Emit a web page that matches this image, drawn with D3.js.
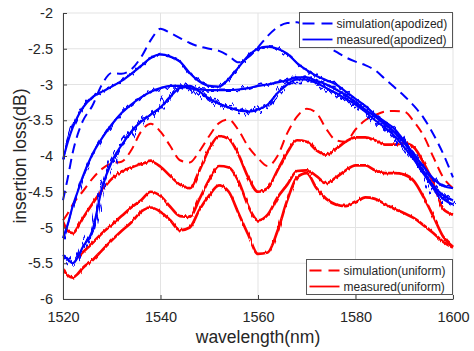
<!DOCTYPE html>
<html>
<head>
<meta charset="utf-8">
<script src="https://cdn.jsdelivr.net/npm/d3@7"></script>
<style>
  body { margin: 0; background: #fff; overflow: hidden; }
  text { font-family: "Liberation Sans", Arial, sans-serif; }
</style>
</head>
<body>
<div class="div-chart"></div>
<script>
// wavelength grid (nm)
const wavelength = [1520, 1521, 1522, 1523, 1524, 1526, 1528, 1530, 1532, 1534, 1536, 1538, 1540,
    1542, 1544, 1546, 1548, 1550, 1552, 1554, 1556, 1558, 1560, 1562, 1564, 1566, 1568, 1570,
    1572, 1574, 1576, 1578, 1580, 1582, 1584, 1586, 1588, 1590, 1592, 1594, 1596, 1598, 1600];

// simulation (apodized) - blue dashed
const simApodized = [-4.62, -4.3, -3.95, -3.7, -3.52, -3.3, -3.0, -2.84, -2.85, -2.79, -2.62, -2.38, -2.22,
    -2.28, -2.35, -2.42, -2.47, -2.5, -2.53, -2.6, -2.69, -2.62, -2.48, -2.32, -2.2, -2.14, -2.13, -2.22,
    -2.36, -2.46, -2.54, -2.62, -2.68, -2.73, -2.8, -2.92, -3.04, -3.16, -3.3, -3.47, -3.7, -3.97, -4.3];

// measured (apodized) - three blue traces
const measApodized1 = [-4.05, -3.8, -3.6, -3.45, -3.33, -3.18, -3.1, -3.03, -2.95, -2.85, -2.74, -2.63, -2.58,
    -2.61, -2.68, -2.84, -2.96, -3.02, -3.03, -2.92, -2.76, -2.6, -2.5, -2.47, -2.5, -2.57, -2.7, -2.8,
    -2.88, -2.94, -3.0, -3.1, -3.2, -3.3, -3.42, -3.52, -3.62, -3.8, -3.98, -4.15, -4.32, -4.42, -4.45];
const measApodized2 = [-5.15, -4.95, -4.7, -4.5, -4.3, -3.98, -3.75, -3.56, -3.4, -3.28, -3.18, -3.1, -3.05,
    -3.02, -3.02, -3.05, -3.07, -3.08, -3.08, -3.08, -3.07, -3.05, -3.02, -3.0, -2.97, -2.94, -2.9, -2.9,
    -2.95, -3.0, -3.07, -3.15, -3.25, -3.35, -3.45, -3.55, -3.67, -3.82, -4.02, -4.22, -4.42, -4.55, -4.62];
const measApodized3 = [-5.38, -5.45, -5.5, -5.42, -5.28, -5.05, -4.45, -4.08, -3.85, -3.66, -3.52, -3.42, -3.32,
    -3.17, -3.05, -3.02, -3.1, -3.2, -3.27, -3.32, -3.36, -3.38, -3.35, -3.28, -3.12, -3.0, -2.93, -2.93,
    -2.98, -3.05, -3.12, -3.2, -3.28, -3.38, -3.5, -3.6, -3.72, -3.88, -4.05, -4.25, -4.45, -4.6, -4.68];

// simulation (uniform) - red dashed
const simUniform = [-4.9, -4.8, -4.68, -4.58, -4.5, -4.32, -4.18, -4.1, -4.08, -3.92, -3.66, -3.55, -3.66,
    -3.86, -4.06, -4.09, -3.93, -3.72, -3.54, -3.49, -3.64, -3.87, -4.03, -4.14, -4.0, -3.68, -3.45, -3.34,
    -3.4, -3.62, -3.78, -3.8, -3.63, -3.5, -3.43, -3.38, -3.37, -3.38, -3.52, -3.72, -4.02, -4.3, -4.45];

// measured (uniform) - three red traces
const measUniform1 = [-4.92, -5.05, -5.08, -5.0, -4.88, -4.67, -4.48, -4.32, -4.22, -4.16, -4.11, -4.08, -4.15,
    -4.28, -4.4, -4.45, -4.2, -3.9, -3.72, -3.76, -3.98, -4.3, -4.5, -4.45, -4.2, -3.95, -3.78, -3.8,
    -3.92, -3.98, -3.9, -3.8, -3.74, -3.74, -3.78, -3.84, -3.84, -3.82, -3.88, -4.1, -4.38, -4.74, -4.82];
const measUniform2 = [null, null, null, -5.42, -5.35, -5.22, -5.08, -4.96, -4.84, -4.72, -4.62, -4.5, -4.56,
    -4.71, -4.84, -4.85, -4.6, -4.33, -4.14, -4.16, -4.35, -4.7, -4.9, -4.82, -4.58, -4.4, -4.21, -4.2,
    -4.28, -4.38, -4.3, -4.2, -4.13, -4.13, -4.2, -4.24, -4.24, -4.26, -4.35, -4.58, -4.85, -5.13, -5.27];
const measUniform3 = [-5.58, -5.67, -5.7, -5.65, -5.57, -5.46, -5.32, -5.18, -5.05, -4.93, -4.78, -4.72, -4.78,
    -4.9, -5.04, -5.0, -4.75, -4.55, -4.41, -4.5, -4.8, -5.1, -5.37, -5.35, -5.05, -4.62, -4.3, -4.24,
    -4.45, -4.6, -4.68, -4.7, -4.65, -4.58, -4.6, -4.67, -4.74, -4.8, -4.87, -4.97, -5.08, -5.2, -5.28];

const xTicks = [1520, 1540, 1560, 1580, 1600];
const yTicks = [-6, -5.5, -5, -4.5, -4, -3.5, -3, -2.5, -2];
const legendApodized = ['simulation(apodized)', 'measured(apodized)'];
const legendUniform = ['simulation(uniform)', 'measured(uniform)'];

const width = 474, height = 351;
const margin = {top: 13, right: 21, bottom: 52, left: 63};
const innerWidth = width - margin.left - margin.right;
const innerHeight = height - margin.top - margin.bottom;

const svg = d3.select('.div-chart')
    .append('svg')
    .attr('width', width)
    .attr('height', height)
    .style('display', 'block');

// jagged texture for the measured traces
const defs = svg.append('defs');
function addRipple(id, freq, scale, seed) {
    const f = defs.append('filter')
        .attr('id', id)
        .attr('filterUnits', 'userSpaceOnUse')
        .attr('x', 0).attr('y', 0).attr('width', width).attr('height', height);
    f.append('feTurbulence')
        .attr('type', 'fractalNoise')
        .attr('baseFrequency', freq)
        .attr('numOctaves', 1)
        .attr('seed', seed)
        .attr('result', 'noise');
    f.append('feDisplacementMap')
        .attr('in', 'SourceGraphic')
        .attr('in2', 'noise')
        .attr('scale', scale)
        .attr('xChannelSelector', 'R')
        .attr('yChannelSelector', 'G');
}
addRipple('rippleBig', '0.32 0.02', 20, 2);
addRipple('rippleBig2', '0.32 0.02', 18, 11);
addRipple('rippleMid', '0.32 0.02', 9, 5);
addRipple('rippleSmall', '0.5 0.05', 3, 8);

const g = svg.append('g')
    .attr('transform', `translate(${margin.left},${margin.top})`);

const xScale = d3.scaleLinear()
    .domain([1520, 1600])
    .range([0, innerWidth]);

const yScale = d3.scaleLinear()
    .domain([-6, -2])
    .range([innerHeight, 0]);

// grid
g.append('g')
    .selectAll('line')
    .data(xTicks)
    .enter().append('line')
    .attr('x1', d => xScale(d)).attr('x2', d => xScale(d))
    .attr('y1', 0).attr('y2', innerHeight)
    .attr('stroke', '#e3e3e3');
g.append('g')
    .selectAll('line')
    .data(yTicks)
    .enter().append('line')
    .attr('x1', 0).attr('x2', innerWidth)
    .attr('y1', d => yScale(d)).attr('y2', d => yScale(d))
    .attr('stroke', '#e3e3e3');

const line = data => d3.line()
    .defined(d => d[1] !== null)
    .x(d => xScale(d[0]))
    .y(d => yScale(d[1]))
    .curve(d3.curveMonotoneX)(wavelength.map((w, i) => [w, data[i]]));

// red traces
[measUniform1, measUniform2, measUniform3].forEach(s => {
    g.append('path')
        .attr('d', line(s))
        .attr('fill', 'none')
        .attr('stroke', '#ff0000')
        .attr('stroke-width', 2.7)
        .attr('filter', 'url(#rippleSmall)');
});
g.append('path')
    .attr('d', line(simUniform))
    .attr('fill', 'none')
    .attr('stroke', '#ff0000')
    .attr('stroke-width', 2)
    .attr('stroke-dasharray', '10,6');

// blue traces: a solid core plus jagged overlays
const blueTraces = [
    {data: measApodized1, core: 2.2, filters: ['rippleMid']},
    {data: measApodized2, core: 2.2, filters: ['rippleMid']},
    {data: measApodized3, core: 2.2, filters: ['rippleBig', 'rippleBig2']}
];
blueTraces.forEach(t => {
    g.append('path')
        .attr('d', line(t.data))
        .attr('fill', 'none')
        .attr('stroke', '#0000ff')
        .attr('stroke-width', t.core);
    t.filters.forEach(f => {
        g.append('path')
            .attr('d', line(t.data))
            .attr('fill', 'none')
            .attr('stroke', '#0000ff')
            .attr('stroke-width', 1.5)
            .attr('filter', `url(#${f})`);
    });
});
g.append('path')
    .attr('d', line(simApodized))
    .attr('fill', 'none')
    .attr('stroke', '#0000ff')
    .attr('stroke-width', 2)
    .attr('stroke-dasharray', '10,6');

// axes
const xAxis = g.append('g')
    .attr('transform', `translate(0,${innerHeight})`)
    .call(d3.axisBottom(xScale).tickValues(xTicks).tickFormat(d3.format('d'))
        .tickSizeInner(-4).tickSizeOuter(0).tickPadding(13));
const yAxis = g.append('g')
    .call(d3.axisLeft(yScale).tickValues(yTicks).tickFormat(d => String(d).replace('\u2212', '-'))
        .tickSizeInner(-4).tickSizeOuter(0).tickPadding(10));
[xAxis, yAxis].forEach(a => {
    a.select('.domain').attr('stroke', '#404040');
    a.selectAll('.tick line').attr('stroke', '#404040');
    a.selectAll('.tick text').attr('fill', '#262626').style('font-size', '14.5px')
        .style('font-family', '"Liberation Sans", Arial, sans-serif');
});

// axis labels
svg.append('text')
    .attr('x', margin.left + innerWidth / 2)
    .attr('y', 343)
    .attr('text-anchor', 'middle')
    .attr('fill', '#262626')
    .style('font-size', '17.5px')
    .text('wavelength(nm)');
svg.append('text')
    .attr('transform', `translate(26,${margin.top + innerHeight / 2}) rotate(-90)`)
    .attr('text-anchor', 'middle')
    .attr('fill', '#262626')
    .style('font-size', '17.5px')
    .text('insertion loss(dB)');

// legends
function legend(x, y, w, labels, color, sampleW) {
    const lg = svg.append('g').attr('transform', `translate(${x},${y})`);
    lg.append('rect')
        .attr('width', w).attr('height', 35)
        .attr('fill', '#fff')
        .attr('stroke', '#555')
        .attr('stroke-width', 1);
    labels.forEach((t, i) => {
        const cy = 11 + i * 16;
        lg.append('line')
            .attr('x1', 3).attr('x2', 3 + sampleW)
            .attr('y1', cy).attr('y2', cy)
            .attr('stroke', color)
            .attr('stroke-width', i === 0 ? 2 : 1.8)
            .attr('stroke-dasharray', i === 0 ? '12,7' : null);
        lg.append('text')
            .attr('x', sampleW + 7)
            .attr('y', cy + 4.3)
            .attr('fill', '#262626')
            .style('font-size', '12px')
            .text(t);
    });
}
legend(299.5, 12.5, 153, legendApodized, '#0000ff', 30);
legend(306.5, 259.5, 146, legendUniform, '#ff0000', 30);
</script>
</body>
</html>
